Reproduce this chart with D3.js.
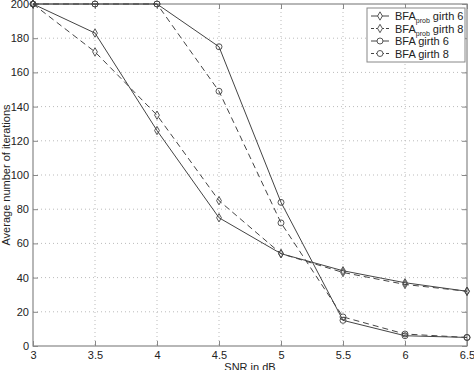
<!DOCTYPE html>
<html>
<head>
<meta charset="utf-8">
<script src="https://d3js.org/d3.v7.min.js"></script>
<style>
  body { margin: 0; background: #fff; }
  svg { display: block; font-family: "Liberation Sans", Arial, sans-serif; }
</style>
</head>
<body>
<div id="chart"></div>
<script>
  // SNR points and the four curves
  var snr = [3, 3.5, 4, 4.5, 5, 5.5, 6, 6.5];
  var probGirth6 = [200, 183, 126, 75, 54, 44, 37, 32];
  var probGirth8 = [200, 172, 135, 85, 54, 43, 36, 32];
  var bfaGirth6  = [200, 200, 200, 175, 84, 15, 6, 5];
  var bfaGirth8  = [200, 200, 200, 149, 72, 17, 7, 5];
  var yTicks = [0, 20, 40, 60, 80, 100, 120, 140, 160, 180, 200];

  var series = [
    {name: "BFA", sub: "prob", tail: " girth 6", vals: probGirth6, dash: null, mark: "diamond"},
    {name: "BFA", sub: "prob", tail: " girth 8", vals: probGirth8, dash: "6,4", mark: "diamond"},
    {name: "BFA", sub: null, tail: " girth 6", vals: bfaGirth6, dash: null, mark: "circle"},
    {name: "BFA", sub: null, tail: " girth 8", vals: bfaGirth8, dash: "6,4", mark: "circle"}
  ];

  var W = 474, H = 370;
  var pL = 33, pR = 467, pT = 4, pB = 346;
  var lineCol = "#444", axisCol = "#888";

  var svg = d3.select("#chart").append("svg")
              .attr("width", W).attr("height", H);

  var x = d3.scaleLinear().domain([3, 6.5]).range([pL, pR]);
  var y = d3.scaleLinear().domain([0, 200]).range([pB, pT]);

  // dotted grid
  var grid = svg.append("g").attr("stroke", "#bbb").attr("stroke-dasharray", "1,3");
  grid.selectAll(".gx").data(snr.slice(1, -1)).enter().append("line")
      .attr("x1", d => x(d)).attr("x2", d => x(d))
      .attr("y1", pT).attr("y2", pB);
  grid.selectAll(".gy").data(yTicks.slice(1, -1)).enter().append("line")
      .attr("y1", d => y(d)).attr("y2", d => y(d))
      .attr("x1", pL).attr("x2", pR);

  // box
  svg.append("rect").attr("x", pL).attr("y", pT)
     .attr("width", pR - pL).attr("height", pB - pT)
     .attr("fill", "none").attr("stroke", axisCol).attr("stroke-width", 1.2);

  // axes with inward ticks
  var fmt = d => String(d);
  svg.append("g").attr("transform", "translate(0," + pB + ")")
     .call(d3.axisBottom(x).tickValues(snr).tickFormat(fmt).tickSizeInner(-5).tickSizeOuter(0).tickPadding(5))
     .call(g => g.select(".domain").remove());
  svg.append("g").attr("transform", "translate(0," + pT + ")")
     .call(d3.axisTop(x).tickValues(snr).tickFormat("").tickSizeInner(-5).tickSizeOuter(0))
     .call(g => g.select(".domain").remove());
  svg.append("g").attr("transform", "translate(" + pL + ",0)")
     .call(d3.axisLeft(y).tickValues(yTicks).tickFormat(fmt).tickSizeInner(-5).tickSizeOuter(0).tickPadding(4))
     .call(g => g.select(".domain").remove());
  svg.append("g").attr("transform", "translate(" + pR + ",0)")
     .call(d3.axisRight(y).tickValues(yTicks).tickFormat("").tickSizeInner(-5).tickSizeOuter(0))
     .call(g => g.select(".domain").remove());
  svg.selectAll(".tick line").attr("stroke", axisCol);
  svg.selectAll(".tick text").attr("fill", "#222").style("font-size", "11px");

  // curves
  var line = d3.line().x((d, i) => x(snr[i])).y(d => y(d));
  var diamond = d3.symbol().type(d3.symbolDiamond).size(20);
  var circle = d3.symbol().type(d3.symbolCircle).size(28);

  series.forEach(function(s) {
    svg.append("path").datum(s.vals)
       .attr("d", line).attr("fill", "none")
       .attr("stroke", lineCol).attr("stroke-width", 1)
       .attr("stroke-dasharray", s.dash);
    svg.selectAll(null).data(s.vals).enter().append("path")
       .attr("transform", (d, i) => "translate(" + x(snr[i]) + "," + y(d) + ")")
       .attr("d", s.mark == "diamond" ? diamond : circle)
       .attr("fill", "none").attr("stroke", lineCol).attr("stroke-width", 0.9);
  });

  // axis titles
  svg.append("text").attr("x", (pL + pR) / 2).attr("y", 371)
     .attr("text-anchor", "middle").style("font-size", "11px").attr("fill", "#222")
     .text("SNR in dB");
  svg.append("text").attr("transform", "translate(10," + ((pT + pB) / 2) + ") rotate(-90)")
     .attr("text-anchor", "middle").style("font-size", "11px").attr("fill", "#222")
     .text("Average number of iterations");

  // legend
  var lg = svg.append("g").attr("transform", "translate(367,8)");
  lg.append("rect").attr("width", 98).attr("height", 54)
    .attr("fill", "#fff").attr("stroke", axisCol);
  series.forEach(function(s, i) {
    var yy = 8 + i * 12.5;
    lg.append("line").attr("x1", 4).attr("x2", 22).attr("y1", yy).attr("y2", yy)
      .attr("stroke", lineCol).attr("stroke-dasharray", s.dash ? "3,2" : null);
    lg.append("path").attr("transform", "translate(13," + yy + ")")
      .attr("d", s.mark == "diamond" ? diamond : circle)
      .attr("fill", "#fff").attr("stroke", lineCol).attr("stroke-width", 0.9);
    var t = lg.append("text").attr("x", 28).attr("y", yy + 4)
              .style("font-size", "11px").attr("fill", "#222");
    t.append("tspan").text(s.name);
    if (s.sub) {
      t.append("tspan").attr("dy", 3).style("font-size", "7px").text(s.sub);
      t.append("tspan").attr("dy", -3).text(s.tail);
    } else {
      t.append("tspan").text(s.tail);
    }
  });
</script>
</body>
</html>
